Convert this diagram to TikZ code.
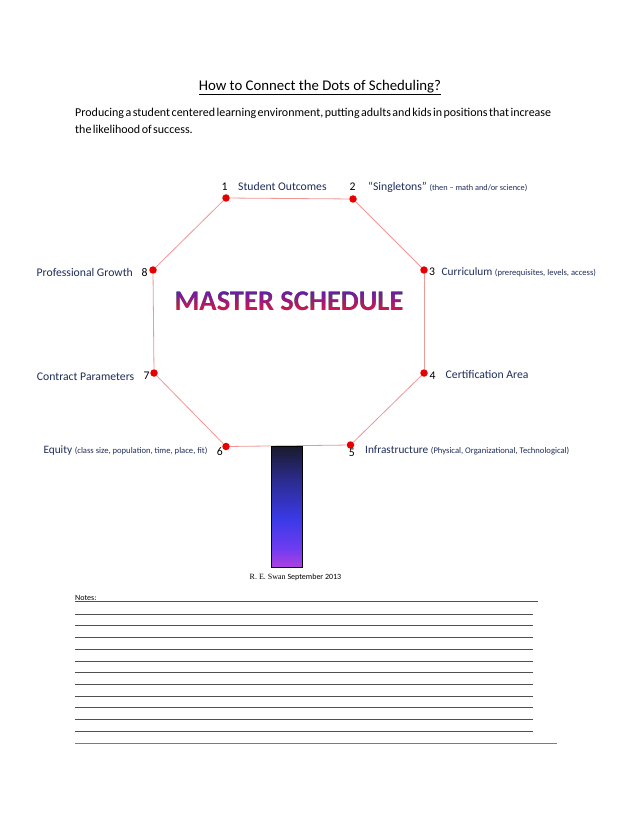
\documentclass[tikz,border=0pt]{standalone}
\usepackage{fontspec}
\setmainfont{Carlito}
\newfontfamily\timesf{Liberation Serif}
\newfontfamily\subfont[WordSpace=0.55]{Carlito}
\definecolor{navy}{RGB}{31,45,90}
\definecolor{edgered}{RGB}{240,150,150}
\definecolor{dotred}{RGB}{230,0,0}
\definecolor{msTop}{RGB}{105,30,165}
\definecolor{msBot}{RGB}{220,20,75}
\definecolor{lineg}{RGB}{80,80,80}
\pgfdeclareverticalshading{barshade}{100bp}{color(0bp)=(rgb,255:red,176;green,64;blue,224); color(25bp)=(rgb,255:red,176;green,64;blue,224); color(33bp)=(rgb,255:red,110;green,60;blue,240); color(45bp)=(rgb,255:red,58;green,58;blue,232); color(60bp)=(rgb,255:red,45;green,45;blue,150); color(75bp)=(rgb,255:red,26;green,26;blue,46); color(100bp)=(rgb,255:red,26;green,26;blue,46)}
\newcommand{\smtxt}{\fontsize{8.6}{10}\selectfont}
\tikzset{
  dot/.style={circle, fill=dotred, inner sep=0pt, minimum size=7.5pt},
  edge/.style={draw=edgered, line width=0.8pt},
  lab/.style={text=navy, anchor=base west, inner sep=0pt, font=\fontsize{11.7}{14}\selectfont},
  labs/.style={text=navy, anchor=base west, inner sep=0pt, font=\fontsize{11.3}{14}\selectfont},
  num/.style={text=black, anchor=base west, inner sep=0pt, font=\fontsize{11.7}{14}\selectfont},
  noteline/.style={draw=lineg, line width=1pt},
}
\begin{document}
\begin{tikzpicture}[x=1pt,y=-1pt]
\useasboundingbox[fill=white] (0,0) rectangle (638,826);
% title
\node[anchor=base, inner sep=0pt, font=\fontsize{14.8}{17}\selectfont] (title) at (320,90.5) {\underline{How to Connect the Dots of Scheduling?}};
\node[anchor=base west, inner sep=0pt, font=\subfont\fontsize{12}{16}\selectfont] (sub1) at (75,117) {Producing a student centered learning environment, putting adults and kids in positions that increase};
\node[anchor=base west, inner sep=0pt, font=\subfont\fontsize{12}{16}\selectfont] (sub2) at (75,134) {the likelihood of success.};
% dots
\node[dot] (d1) at (226,198) {};
\node[dot] (d2) at (353,199) {};
\node[dot] (d3) at (424,270) {};
\node[dot] (d4) at (424,373) {};
\node[dot] (d5) at (350.5,445) {};
\node[dot] (d6) at (226,446.5) {};
\node[dot] (d7) at (154,373) {};
\node[dot] (d8) at (153,270) {};
\draw[edge] (d1) -- (d2);
\draw[edge] (d2) -- (d3);
\draw[edge] (d3) -- (d4);
\draw[edge] (d4) -- (d5);
\draw[edge] (d5) -- (d6);
\draw[edge] (d6) -- (d7);
\draw[edge] (d7) -- (d8);
\draw[edge] (d8) -- (d1);
% labels
\node[num] (n1) at (221.5,190.5) {1};
\node[lab] (l1) at (238,190.5) {Student Outcomes};
\node[num] (n2) at (349.5,191) {2};
\node[lab] (l2) at (368,191) {“Singletons” {\fontsize{8.3}{10}\selectfont(then – math and/or science)}};
\node[num] (n3) at (429,275) {3};
\node[labs] (l3) at (441.5,275) {Curriculum {\smtxt(prerequisites, levels, access)}};
\node[num] (n8) at (141.5,276) {8};
\node[lab] (l8) at (36.5,276) {Professional Growth};
\node[num] (n4) at (429.5,379) {4};
\node[lab] (l4) at (445.5,378) {Certification Area};
\node[num] (n7) at (143.5,379.5) {7};
\node[lab] (l7) at (36.7,380) {Contract Parameters};
\node[num] (n6) at (216.7,455.5) {6};
\node[labs] (l6) at (43.3,453.5) {Equity {\smtxt(class size, population, time, place, fit)}};
\node[num] (n5) at (348.7,456) {5};
\node[labs] (l5) at (365,453) {Infrastructure {\smtxt(Physical, Organizational, Technological)}};
% master schedule: black text, gradient laid over it with blend mode lighten
\node[inner sep=0pt, text=black, font=\fontsize{28.5}{30}\selectfont\bfseries] (ms) at (289,301.5) {MASTER SCHEDULE};
\shade[blend mode=lighten, top color=msTop, bottom color=msBot] (ms.north west) rectangle (ms.south east);
% bar
\node[draw=black, line width=0.8pt, shading=barshade, minimum width=31pt, minimum height=121pt, inner sep=0pt] (bar) at (287.2,507.2) {};
\node[anchor=base, inner sep=0pt, font=\fontsize{8}{10}\selectfont] (cap) at (295.5,579) {{\timesf R. E. Swan} September 2013};
% notes
\node[anchor=base west, inner sep=0pt, font=\fontsize{8}{10}\selectfont] (notes) at (75,600) {\underline{Notes:}};
\coordinate (a0) at (75,601.7); \coordinate (b0) at (537.7,601.7);
\draw[noteline] (a0) -- (b0);
\foreach \i/\yy in {1/614,2/625.7,3/637.3,4/649,5/661,6/672.7,7/684.3,8/696,9/707.7,10/719.3,11/731}{
  \coordinate (a\i) at (75,\yy); \coordinate (b\i) at (532.7,\yy);
  \draw[noteline] (a\i) -- (b\i);
}
\coordinate (a12) at (75,743.3); \coordinate (b12) at (556.7,743.3);
\draw[noteline, draw=lineg!75] (a12) -- (b12);
\end{tikzpicture}
\end{document}
